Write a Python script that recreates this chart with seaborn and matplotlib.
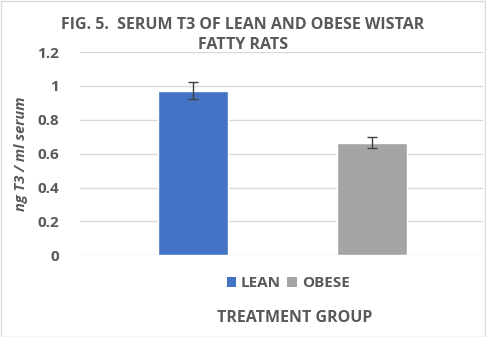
import matplotlib
matplotlib.use("Agg")
import matplotlib.pyplot as plt
import seaborn as sns
import pandas as pd
from matplotlib.patches import Rectangle, Patch

groups = ["LEAN", "OBESE"]
values = [0.972, 0.665]
errors = [0.051, 0.033]
colors = ["#4472C4", "#A5A5A5"]
yticks = [0, 0.2, 0.4, 0.6, 0.8, 1.0, 1.2]
ytick_labels = ["0", "0.2", "0.4", "0.6", "0.8", "1", "1.2"]

sns.set_theme(style="white")
plt.rcParams['font.family'] = ['Open Sans', 'DejaVu Sans']
txt = "#595959"

fig = plt.figure(figsize=(4.86, 3.37), dpi=100)
ax = fig.add_axes([80/486, 1-255.3/337, (483-80)/486, (255.3-52)/337])

df = pd.DataFrame({"group": groups, "value": values})
sns.barplot(data=df, x="group", y="value", hue="group", order=groups,
            hue_order=groups, palette=colors, width=0.39, dodge=False,
            saturation=1, legend=False, ax=ax)
ax.errorbar(range(len(groups)), values, yerr=errors, fmt="none",
            ecolor="#404040", elinewidth=1.0, capsize=3.5, capthick=1.0, zorder=5)

ax.set_xlim(-0.63, 1.62)
ax.set_ylim(0, 1.2)
ax.set_yticks(yticks)
ax.set_yticklabels(ytick_labels, fontsize=11, fontweight="bold", color=txt)
ax.tick_params(axis="y", length=0, pad=15)
ax.set_xticks([])
ax.set_xlabel("")
ax.set_ylabel("ng T3 / ml serum", fontsize=10.5, fontweight="bold", style="italic",
              color=txt, labelpad=7)
ax.yaxis.grid(True, color="#d9d9d9", linewidth=1.0)
ax.set_axisbelow(True)
for s in ax.spines.values():
    s.set_visible(False)

fig.text(0.5, 1-25/337, "FIG. 5.  SERUM T3 OF LEAN AND OBESE WISTAR", ha="center",
         va="center", fontsize=11.5, fontweight="bold", color=txt)
fig.text(0.5, 1-45/337, "FATTY RATS", ha="center", va="center", fontsize=11.5,
         fontweight="bold", color=txt)

handles = [Patch(facecolor=c, edgecolor="none") for c in colors]
fig.legend(handles, groups, loc="center", bbox_to_anchor=(288/486, 1-283/337),
           ncol=2, frameon=False, handlelength=0.65, handleheight=0.65,
           handletextpad=0.3, columnspacing=0.4,
           prop={"size": 11, "weight": "bold", "family": "Open Sans"},
           labelcolor=txt)

fig.text(295/486, 1-318/337, "TREATMENT GROUP", ha="center", va="center",
         fontsize=11.5, fontweight="bold", color=txt)

fig.patches.append(Rectangle((0.5/486, 0.5/337), 1-1.5/486, 1-1.5/337,
                             transform=fig.transFigure, fill=False,
                             edgecolor="#d9d9d9", linewidth=1.0))

fig.savefig("out.png", dpi=100)
